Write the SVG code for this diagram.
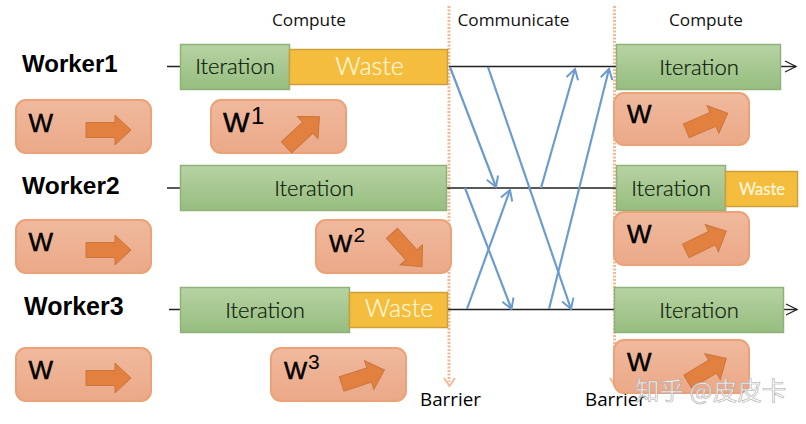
<svg xmlns="http://www.w3.org/2000/svg" xmlns:xlink="http://www.w3.org/1999/xlink" width="806" height="424" viewBox="0 0 806 424">
<style>
text{font-family:"Liberation Sans",Arial,sans-serif;fill:#000}
.hd{font-family:"Open Sans","Liberation Sans",sans-serif;font-size:17.200px;fill:#111}
.wk{font-weight:bold;font-size:24px}
.it{font-family:"Lato","Liberation Sans",sans-serif;font-weight:300;font-size:22px;fill:#0a1607;stroke:#0a1607;stroke-width:.2px;text-anchor:middle}
.ws{font-family:"Lato","Liberation Sans",sans-serif;font-weight:300;font-size:25px;fill:#fff8dc;stroke:#fff8dc;stroke-width:.2px;text-anchor:middle}
.w{font-size:26px;stroke:#000;stroke-width:.5px}
.sup{font-size:21px}
.br{font-family:"Open Sans","Liberation Sans",sans-serif;font-size:18.800px}
.g{fill:url(#gg);stroke:#8fb27a;stroke-width:1.5}
.y{fill:#f5bd3d;stroke:#c9a03a;stroke-width:1.5}
.o{fill:url(#og);stroke:#eda177;stroke-width:2}
.a{fill:#e2813f;stroke:#c9763f;stroke-width:1}
.l{stroke:#222;stroke-width:1.4;fill:none}
.b{stroke:#6c9bcf;stroke-width:2.2;fill:none;marker-end:url(#bm)}
.bar{stroke:#f2bb98;stroke-width:3;stroke-dasharray:2 1.5;fill:none}
</style>
<defs>
<linearGradient id="gg" x1="0" y1="0" x2="0" y2="1"><stop offset="0" stop-color="#b7d3a3"/><stop offset="1" stop-color="#96bd7f"/></linearGradient>
<linearGradient id="og" x1="0" y1="0" x2="0" y2="1"><stop offset="0" stop-color="#f0b99d"/><stop offset="1" stop-color="#eba988"/></linearGradient>
<marker id="bm" markerUnits="userSpaceOnUse" markerWidth="16" markerHeight="16" refX="13" refY="8" orient="auto"><path d="M3 2 L13 8 L3 14" fill="none" stroke="#6c9bcf" stroke-width="2"/></marker>
<marker id="km" markerUnits="userSpaceOnUse" markerWidth="16" markerHeight="14" refX="14" refY="7" orient="auto"><path d="M3 1.500 L14 7 L3 12.500" fill="none" stroke="#222" stroke-width="1.300"/></marker>
<path id="arr" class="a" d="M-22.500 -7.500H6.500V-15L22.500 0L6.500 15V7.500H-22.500Z"/>
</defs>
<rect width="806" height="424" fill="#fff"/>
<g id="headers">
<text class="hd" x="272" y="25.500">Compute</text>
<text class="hd" x="457.500" y="25.500">Communicate</text>
<text class="hd" x="669" y="25.500">Compute</text>
</g>
<g id="barriers">
<path class="bar" d="M449 6V382"/>
<path class="bar" d="M614.500 6V385"/>
<path d="M444 378L449.500 386L455 378" fill="none" stroke="#f2bb98" stroke-width="2"/>
<path d="M610 378L615 386" fill="none" stroke="#f2bb98" stroke-width="2"/>
<text id="barrier1" class="br" x="420" y="405.500">Barrier</text>
<text id="barrier2" class="br" x="585" y="405.500">Barrier</text>
</g>
<g id="connectors">
<path class="l" d="M167 66.500H180M449 66.500H616"/>
<path class="l" d="M780 66.500H796" marker-end="url(#km)"/>
<path class="l" d="M167 188H180M447 188H616"/>
<path class="l" d="M169 309.500H180M447 309.500H614"/>
<path class="l" d="M783 309.500H797" marker-end="url(#km)"/>
<path class="b" d="M450 67L496 187"/>
<path class="b" d="M488 67L571 309"/>
<path class="b" d="M541 188L575 69"/>
<path class="b" d="M549 309L609 69"/>
<path class="b" d="M465 188L511.500 309"/>
<path class="b" d="M467 309L510 190"/>
</g>
<g id="worker1"><text class="wk" x="22" y="72">Worker1</text></g>
<g id="worker2"><text class="wk" x="22" y="194" style="font-size:24.500px">Worker2</text></g>
<g id="worker3"><text class="wk" x="24" y="315" style="font-size:25px">Worker3</text></g>
<g id="iter1a"><rect class="g" x="180.500" y="44.500" width="109" height="45"/><text class="it" x="235" y="74">Iteration</text></g>
<g id="waste1"><rect class="y" x="289.500" y="49.500" width="158" height="35"/><text class="ws" x="369.500" y="75">Waste</text></g>
<g id="iter2a"><rect class="g" x="180.500" y="165.500" width="266" height="45"/><text class="it" x="314" y="196">Iteration</text></g>
<g id="iter3a"><rect class="g" x="180.500" y="287.500" width="169" height="45"/><text class="it" x="265" y="318">Iteration</text></g>
<g id="waste3"><rect class="y" x="349.500" y="292.500" width="98" height="35"/><text class="ws" x="399" y="317">Waste</text></g>
<g id="iter1b"><rect class="g" x="616.500" y="44.500" width="164" height="45"/><text class="it" x="699" y="75">Iteration</text></g>
<g id="iter2b"><rect class="g" x="616.500" y="165.500" width="109" height="45"/><text class="it" x="671" y="196">Iteration</text></g>
<g id="waste2"><rect class="y" x="725.500" y="171.500" width="72" height="35"/><text class="ws" x="762" y="195" style="font-size:16.500px;font-weight:400">Waste</text></g>
<g id="iter3b"><rect class="g" x="614.500" y="287.500" width="169" height="45"/><text class="it" x="699" y="318">Iteration</text></g>
<g id="w-left1"><rect class="o" x="16" y="100" width="135" height="53" rx="10"/><text class="w" x="28.500" y="132">W</text><use xlink:href="#arr" transform="translate(108.500 130)"/></g>
<g id="w-left2"><rect class="o" x="16" y="220" width="135" height="53" rx="10"/><text class="w" x="28.500" y="251">W</text><use xlink:href="#arr" transform="translate(108.500 250)"/></g>
<g id="w-left3"><rect class="o" x="16" y="348" width="135" height="53" rx="10"/><text class="w" x="28.500" y="379">W</text><use xlink:href="#arr" transform="translate(108.500 378)"/></g>
<g id="w1"><rect class="o" x="211" y="100" width="135" height="53" rx="10"/><text class="w" x="223" y="132" style="font-size:28px">W</text><text class="sup" x="251" y="124" style="font-size:24px">1</text><use xlink:href="#arr" transform="translate(303 132) rotate(-43)"/></g>
<g id="w2"><rect class="o" x="316" y="220" width="135" height="53" rx="10"/><text class="w" x="329" y="252" style="font-size:24.500px">W</text><text class="sup" x="353.500" y="242">2</text><use xlink:href="#arr" transform="translate(407 250) rotate(48)"/></g>
<g id="w3"><rect class="o" x="271" y="348" width="135" height="53" rx="10"/><text class="w" x="284" y="379" style="font-size:24.500px">W</text><text class="sup" x="308" y="369">3</text><use xlink:href="#arr" transform="translate(363 377) rotate(-18)"/></g>
<g id="w-right1"><rect class="o" x="614" y="93" width="135" height="52" rx="10"/><text class="w" x="627" y="123">W</text><use xlink:href="#arr" transform="translate(707 122) rotate(-23)"/></g>
<g id="w-right2"><rect class="o" x="614" y="212" width="135" height="53" rx="10"/><text class="w" x="627" y="243">W</text><use xlink:href="#arr" transform="translate(706 241) rotate(-26)"/></g>
<g id="w-right3"><rect class="o" x="614" y="340" width="135" height="53" rx="10"/><text class="w" x="627" y="371">W</text><use xlink:href="#arr" transform="translate(707 370) rotate(-31)"/></g>
<text id="watermark" x="635" y="400" style="font-family:'Noto Sans CJK SC',sans-serif;font-size:24.500px;fill:#fff;fill-opacity:.75;stroke:#aaa;stroke-width:.6px">知乎 @皮皮卡</text>
</svg>
